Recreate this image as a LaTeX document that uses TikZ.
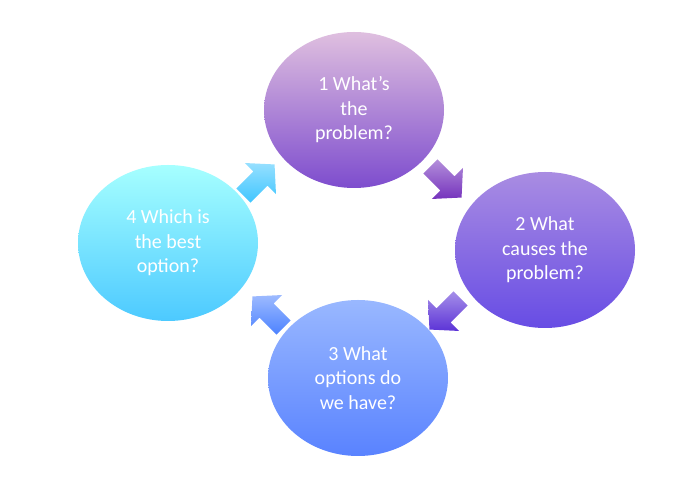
\documentclass[tikz,border=0pt]{standalone}
\usepackage{fontspec}
\setmainfont{Carlito}
\usetikzlibrary{shapes.geometric}
\begin{document}
\begin{tikzpicture}[x=1pt,y=1pt,
  bub/.style={ellipse,minimum width=180pt,minimum height=156pt,inner sep=0pt,align=center,text=white,font=\fontsize{20}{24.5}\selectfont},
  barrow/.pic={\shade[top color=#1!55!white,bottom color=#1,shading angle=0]
     (-22,-10)--(2,-10)--(2,-22)--(22,0)--(2,22)--(2,10)--(-22,10)--cycle;}]
\useasboundingbox (0,0) rectangle (690,486);
\node[bub,top color=violet!25!white,bottom color=violet!55!blue!70!white] (n1) at (354,376) {1 What’s\\the\\problem?};
\node[bub,top color=blue!50!violet!45!white,bottom color=blue!70!violet!70!white] (n2) at (545,236) {2 What\\causes the\\problem?};
\node[bub,top color=cyan!30!blue!40!white,bottom color=cyan!25!blue!65!white] (n3) at (358,108) {3 What\\options do\\we have?};
\node[bub,top color=cyan!35!white,bottom color=cyan!70!blue!70!white] (n4) at (168,243) {4 Which is\\the best\\option?};
\pic[rotate=-45] at (446,304) {barrow=violet!65!blue!80!white};
\pic[rotate=-135] at (445,172) {barrow=blue!60!violet!80!white};
\pic[rotate=135] at (268,174) {barrow=cyan!30!blue!70!white};
\pic[rotate=45] at (259,306) {barrow=cyan!70!blue!75!white};
\end{tikzpicture}
\end{document}
